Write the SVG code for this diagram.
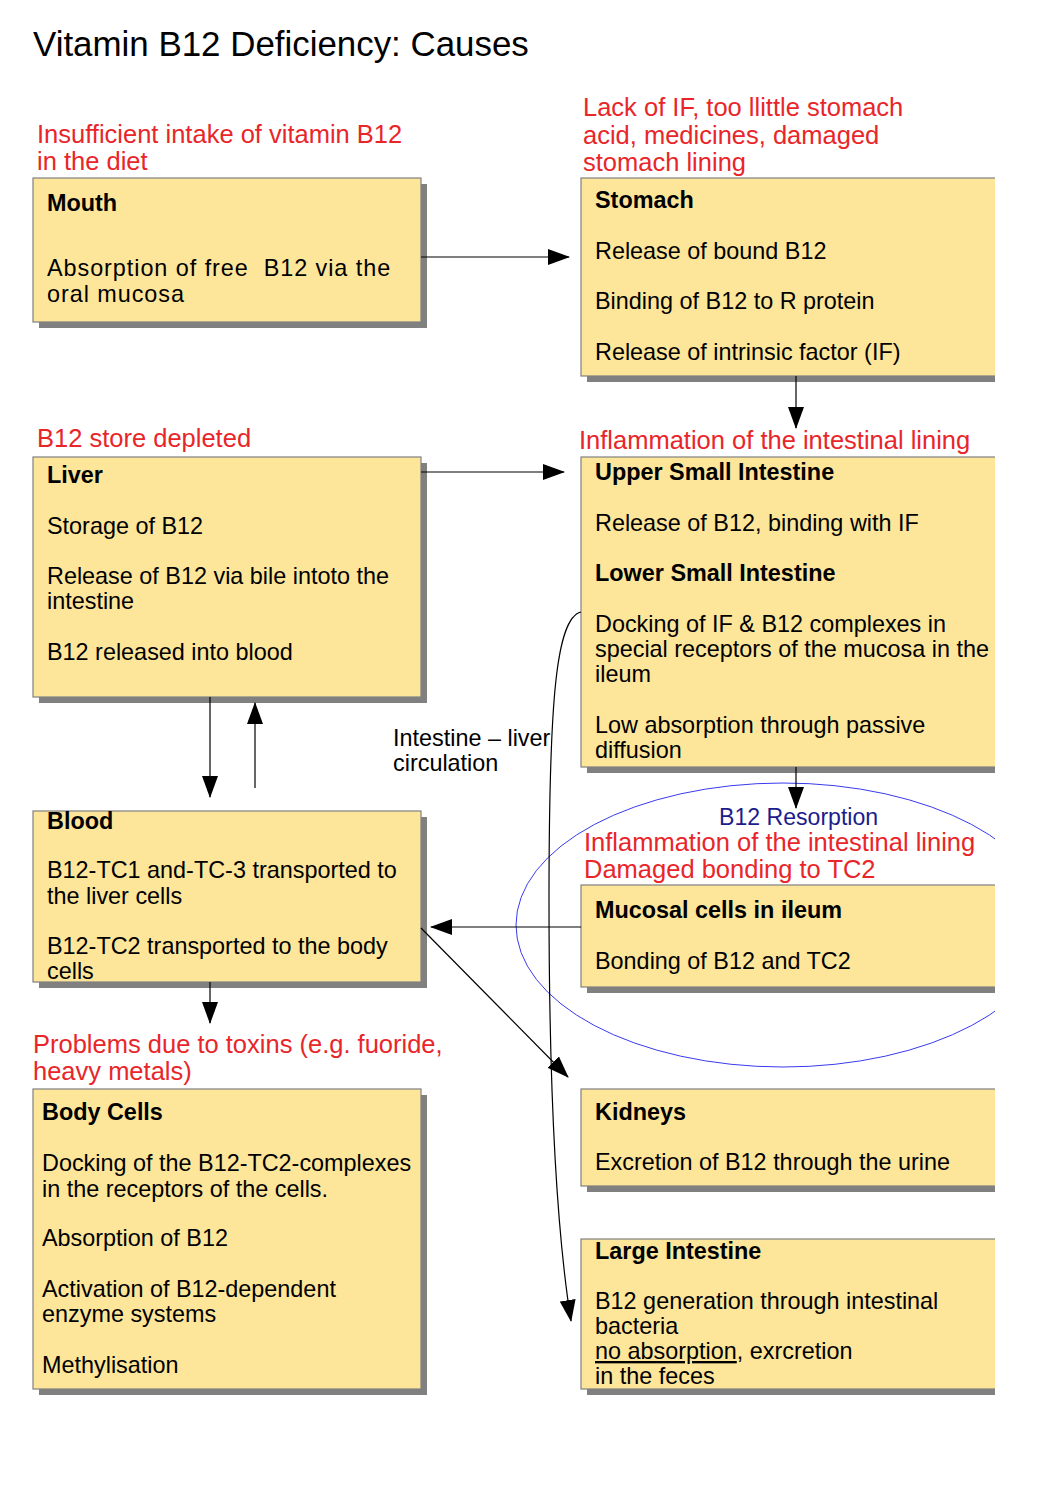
<svg xmlns="http://www.w3.org/2000/svg" width="1050" height="1485" viewBox="0 0 1050 1485">
<style>
text{font-family:"Liberation Sans",Arial,sans-serif;font-size:23.4px;fill:#000}
.title{font-size:34.9px}
.red{fill:#e8262a;font-size:25.5px}
.blue{fill:#1c1c8c;font-size:23.1px}
.b{font-weight:bold}
.wide{letter-spacing:0.95px}
.box{fill:#fde69a;stroke:#808080;stroke-width:1.2}
.sh{fill:#808080}
.con{stroke:#000;stroke-width:1.2;fill:none}
</style>
<defs>
<marker id="ah" markerUnits="userSpaceOnUse" markerWidth="22" markerHeight="16" refX="21" refY="8" orient="auto">
<path d="M0,0 L22,8 L0,16 Z" fill="#000"/>
</marker>
<clipPath id="cr"><rect x="0" y="0" width="995" height="1485"/></clipPath>
</defs>
<rect width="1050" height="1485" fill="#fff"/>
<text class="title" x="33" y="56">Vitamin B12 Deficiency: Causes</text>

<g clip-path="url(#cr)">
<ellipse id="resorption-ellipse" cx="783" cy="925" rx="267" ry="142" fill="none" stroke="#3a3aee" stroke-width="1"/>
</g>

<g id="mouth">
<text class="red" x="37" y="143">Insufficient intake of vitamin B12</text>
<text class="red" x="37" y="170">in the diet</text>
<rect class="sh" x="39" y="184" width="388" height="144"/>
<rect class="box" x="33" y="178" width="388" height="144"/>
<text class="b" x="47" y="211">Mouth</text>
<text class="wide" x="47" y="276" xml:space="preserve">Absorption of free  B12 via the</text>
<text class="wide" x="47" y="302">oral mucosa</text>
</g>

<g id="stomach" clip-path="url(#cr)">
<text class="red" x="583" y="116">Lack of IF, too llittle stomach</text>
<text class="red" x="583" y="144">acid, medicines, damaged</text>
<text class="red" x="583" y="171">stomach lining</text>
<rect class="sh" x="587" y="184" width="420" height="198"/>
<rect class="box" x="581" y="178" width="420" height="198"/>
<text class="b" x="595" y="208">Stomach</text>
<text x="595" y="259">Release of bound B12</text>
<text x="595" y="309">Binding of B12 to R protein</text>
<text x="595" y="360">Release of intrinsic factor (IF)</text>
</g>

<g id="liver">
<text class="red" x="37" y="447">B12 store depleted</text>
<rect class="sh" x="39" y="463" width="388" height="240"/>
<rect class="box" x="33" y="457" width="388" height="240"/>
<text class="b" x="47" y="483">Liver</text>
<text x="47" y="534">Storage of B12</text>
<text x="47" y="584">Release of B12 via bile intoto the</text>
<text x="47" y="609">intestine</text>
<text x="47" y="660">B12 released into blood</text>
</g>

<g id="small-intestine" clip-path="url(#cr)">
<text class="red" x="579" y="449">Inflammation of the intestinal lining</text>
<rect class="sh" x="587" y="463" width="420" height="310"/>
<rect class="box" x="581" y="457" width="420" height="310"/>
<text class="b" x="595" y="480">Upper Small Intestine</text>
<text x="595" y="531">Release of B12, binding with IF</text>
<text class="b" x="595" y="581">Lower Small Intestine</text>
<text x="595" y="632">Docking of IF &amp; B12 complexes in</text>
<text x="595" y="657">special receptors of the mucosa in the</text>
<text x="595" y="682">ileum</text>
<text x="595" y="733">Low absorption through passive</text>
<text x="595" y="758">diffusion</text>
</g>

<g id="circulation-label">
<text x="393" y="746">Intestine – liver</text>
<text x="393" y="771">circulation</text>
</g>

<g id="blood">
<rect class="sh" x="39" y="817" width="388" height="171"/>
<rect class="box" x="33" y="811" width="388" height="171"/>
<text class="b" x="47" y="829">Blood</text>
<text x="47" y="878">B12-TC1 and-TC-3 transported to</text>
<text x="47" y="904">the liver cells</text>
<text x="47" y="954">B12-TC2 transported to the body</text>
<text x="47" y="979">cells</text>
</g>

<g id="mucosal" clip-path="url(#cr)">
<text class="blue" x="719" y="825">B12 Resorption</text>
<text class="red" x="584" y="851">Inflammation of the intestinal lining</text>
<text class="red" x="584" y="878">Damaged bonding to TC2</text>
<rect class="sh" x="587" y="891" width="420" height="102"/>
<rect class="box" x="581" y="885" width="420" height="102"/>
<text class="b" x="595" y="918">Mucosal cells in ileum</text>
<text x="595" y="969">Bonding of B12 and TC2</text>
</g>

<g id="body-cells">
<text class="red" x="33" y="1053">Problems due to toxins (e.g. fuoride,</text>
<text class="red" x="33" y="1080">heavy metals)</text>
<rect class="sh" x="39" y="1095" width="388" height="300"/>
<rect class="box" x="33" y="1089" width="388" height="300"/>
<text class="b" x="42" y="1120">Body Cells</text>
<text x="42" y="1171">Docking of the B12-TC2-complexes</text>
<text x="42" y="1197">in the receptors of the cells.</text>
<text x="42" y="1246">Absorption of B12</text>
<text x="42" y="1297">Activation of B12-dependent</text>
<text x="42" y="1322">enzyme systems</text>
<text x="42" y="1373">Methylisation</text>
</g>

<g id="kidneys" clip-path="url(#cr)">
<rect class="sh" x="587" y="1095" width="420" height="97"/>
<rect class="box" x="581" y="1089" width="420" height="97"/>
<text class="b" x="595" y="1120">Kidneys</text>
<text x="595" y="1170">Excretion of B12 through the urine</text>
</g>

<g id="large-intestine" clip-path="url(#cr)">
<rect class="sh" x="587" y="1245" width="420" height="150"/>
<rect class="box" x="581" y="1239" width="420" height="150"/>
<text class="b" x="595" y="1259">Large Intestine</text>
<text x="595" y="1309">B12 generation through intestinal</text>
<text x="595" y="1334">bacteria</text>
<text x="595" y="1359"><tspan text-decoration="underline">no absorption</tspan>, exrcretion</text>
<text x="595" y="1384">in the feces</text>
</g>

<g id="connectors">
<line class="con" x1="421" y1="257" x2="569" y2="257" marker-end="url(#ah)"/>
<line class="con" x1="796" y1="376" x2="796" y2="428" marker-end="url(#ah)"/>
<line class="con" x1="421" y1="472" x2="564" y2="472" marker-end="url(#ah)"/>
<line class="con" x1="796" y1="767" x2="796" y2="808" marker-end="url(#ah)"/>
<line class="con" x1="210" y1="697" x2="210" y2="797" marker-end="url(#ah)"/>
<line class="con" x1="255" y1="788" x2="255" y2="703" marker-end="url(#ah)"/>
<line class="con" x1="581" y1="927" x2="431" y2="927" marker-end="url(#ah)"/>
<line class="con" x1="421" y1="928" x2="568" y2="1077" marker-end="url(#ah)"/>
<line class="con" x1="210" y1="982" x2="210" y2="1023" marker-end="url(#ah)"/>
<path class="con" d="M581,612 C556,618 549,700 549,900 C549,1100 558,1240 571,1321" marker-end="url(#ah)"/>
</g>
</svg>
